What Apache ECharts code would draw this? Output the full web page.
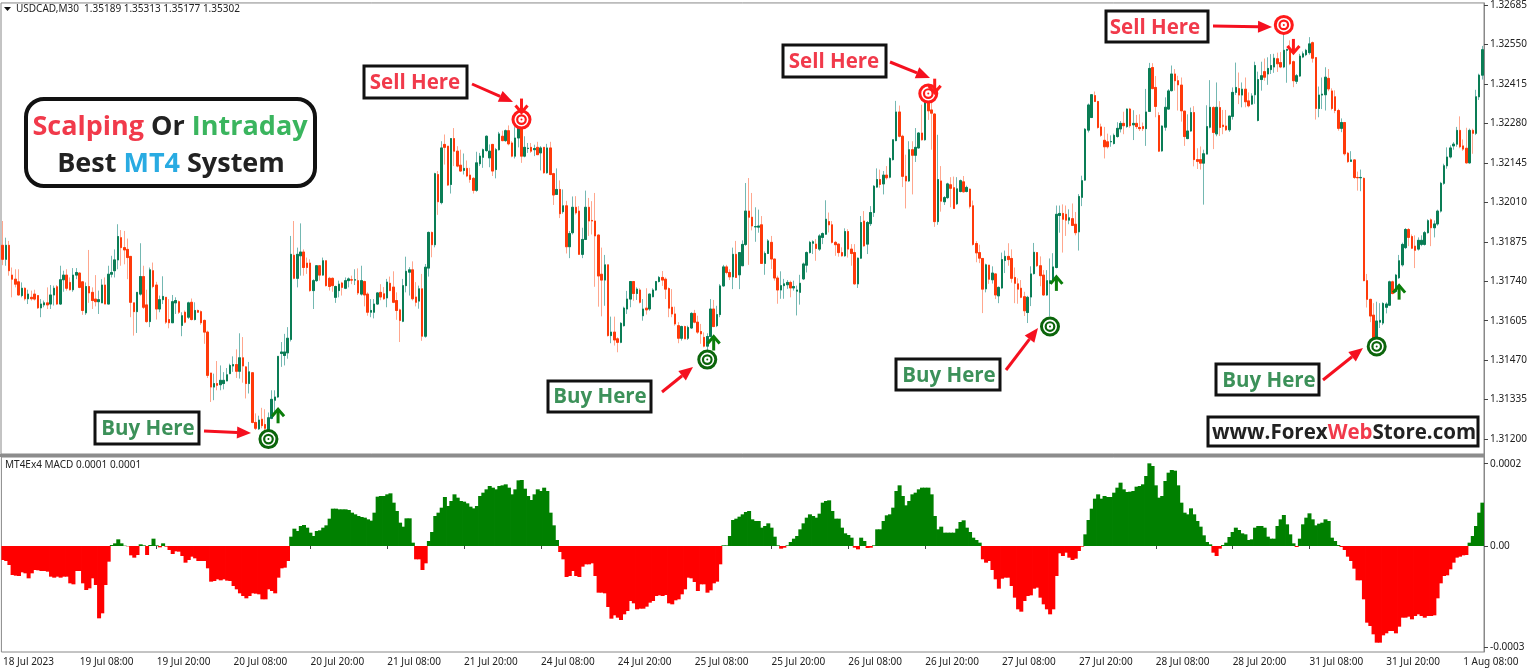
<!DOCTYPE html>
<html>
<head>
<meta charset="utf-8">
<title>USDCAD M30</title>
<script src="https://cdn.jsdelivr.net/npm/echarts@6/dist/echarts.min.js"></script>
<style>
html,body{margin:0;padding:0;background:#fff;}
#container1{width:1536px;height:672px;}
</style>
</head>
<body>
<div id="container1"></div>
<script>
// prices are stored as points above 1.30000 (2550 = 1.32550)
var openPts=[
1863,1815,1863,1761,1747,1738,1691,1716,1680,1685,
1696,1691,1649,1659,1666,1662,1693,1721,1662,1745,
1761,1736,1711,1761,1768,1738,1632,1722,1702,1679,
1670,1666,1727,1662,1764,1776,1813,1889,1855,1849,
1825,1666,1636,1696,1756,1659,1602,1776,1727,1645,
1677,1685,1609,1598,1666,1670,1589,1634,1617,1668,
1609,1640,1636,1606,1566,1426,1378,1390,1386,1390,
1399,1424,1450,1455,1432,1478,1447,1390,1427,1257,
1235,1268,1250,1231,1271,1333,1344,1493,1486,1495,
1541,1829,1750,1827,1840,1802,1802,1708,1742,1793,
1761,1810,1750,1750,1685,1708,1734,1716,1742,1745,
1744,1742,1696,1739,1696,1634,1634,1662,1702,1697,
1683,1733,1720,1674,1642,1603,1725,1771,1779,1686,
1672,1714,1552,1785,1907,1865,2105,2009,2208,2202,
2071,2228,2185,2137,2119,2126,2103,2092,2051,2142,
2164,2187,2162,2208,2122,2190,2236,2221,2255,2213,
2168,2230,2264,2168,2194,2198,2190,2198,2179,2198,
2111,2196,2108,2037,2054,1978,1998,1858,1906,1993,
1980,1832,1883,1993,1948,1946,1898,1764,1744,1796,
1554,1566,1543,1531,1588,1645,1679,1739,1698,1710,
1622,1648,1645,1687,1710,1739,1753,1747,1715,1651,
1628,1588,1545,1585,1545,1580,1630,1600,1568,1548,
1518,1551,1645,1588,1626,1724,1789,1770,1755,1832,
1762,1793,1866,1980,1959,1926,1925,1933,1801,1835,
1873,1816,1751,1710,1725,1728,1736,1717,1706,1702,
1748,1795,1838,1870,1867,1850,1890,1901,1944,1933,
1873,1867,1838,1827,1910,1850,1838,1731,1819,1946,
1867,1937,1975,2062,2088,2073,2103,2096,2156,2221,
2319,2236,2099,2083,2190,2171,2196,2247,2224,2355,
2326,2312,1944,2083,2012,2026,2070,2060,2005,2047,
2080,2047,2055,1998,1869,1838,1818,1714,1795,1745,
1765,1690,1717,1811,1825,1818,1753,1731,1716,1687,
1633,1686,1766,1838,1793,1761,1693,1733,1740,1787,
1965,1972,1969,1949,1954,1935,1909,2027,2086,2257,
2300,2375,2355,2268,2222,2217,2217,2211,2235,2261,
2280,2269,2329,2275,2280,2266,2269,2262,2321,2471,
2403,2307,2186,2267,2329,2392,2449,2426,2411,2322,
2228,2254,2317,2156,2156,2144,2175,2267,2334,2244,
2334,2274,2271,2258,2304,2386,2399,2377,2397,2357,
2346,2378,2290,2430,2457,2449,2464,2473,2501,2488,
2473,2530,2533,2491,2424,2442,2507,2515,2522,2556,
2505,2331,2377,2378,2434,2391,2371,2324,2263,2283,
2178,2150,2155,2095,2094,2092,1742,1678,1624,1537,
1600,1597,1651,1658,1738,1705,1752,1796,1855,1917,
1893,1860,1850,1866,1866,1906,1950,1923,1936,1980,
2075,2135,2165,2203,2209,2256,2203,2195,2145,2256,
2246,2371,2445];
var highPts=[
1946,1889,1878,1787,1781,1781,1736,1719,1711,1708,
1711,1691,1679,1674,1719,1727,1725,1727,1793,1776,
1781,1753,1785,1785,1770,1738,1736,1847,1719,1761,
1708,1747,1753,1793,1827,1849,1935,1915,1912,1886,
1825,1666,1702,1870,1793,1711,1787,1804,1738,1691,
1757,1685,1679,1693,1685,1674,1634,1640,1670,1681,
1668,1643,1640,1609,1571,1426,1424,1467,1452,1429,
1443,1458,1483,1507,1562,1549,1450,1464,1427,1288,
1280,1307,1302,1291,1367,1367,1483,1532,1560,1583,
1895,1946,1855,1938,1849,1821,1815,1747,1795,1795,
1821,1810,1755,1753,1725,1742,1738,1753,1753,1759,
1781,1784,1793,1742,1702,1679,1679,1702,1730,1720,
1748,1756,1774,1702,1646,1748,1824,1788,1808,1737,
1725,1765,1799,1910,1910,2111,2117,2219,2242,2202,
2230,2264,2202,2190,2177,2153,2128,2096,2183,2179,
2194,2239,2208,2210,2196,2251,2255,2259,2273,2219,
2267,2287,2281,2236,2213,2213,2207,2217,2202,2198,
2210,2217,2111,2126,2085,2054,2015,1912,2030,2031,
1997,1923,2050,2025,2014,2042,1900,1855,1830,1796,
1619,1619,1548,1600,1653,1707,1741,1741,1719,1716,
1679,1716,1698,1716,1741,1758,1775,1753,1719,1713,
1653,1600,1588,1588,1588,1634,1642,1622,1594,1565,
1562,1679,1676,1656,1730,1796,1796,1781,1855,1878,
1838,1880,2076,2093,2042,1993,1985,1963,1842,1884,
1895,1816,1759,1774,1748,1744,1742,1742,1725,1762,
1804,1842,1878,1880,1884,1901,1907,2017,1975,1946,
1878,1869,1856,1921,1918,1867,1867,1821,1963,1980,
1946,1997,2069,2126,2122,2117,2134,2164,2224,2357,
2341,2241,2173,2219,2219,2264,2250,2344,2361,2366,
2353,2315,2241,2134,2031,2077,2096,2098,2096,2088,
2100,2067,2057,2016,1877,1865,1818,1800,1795,1791,
1767,1722,1838,1845,1870,1849,1787,1750,1744,1704,
1690,1791,1871,1838,1825,1778,1778,1818,1836,1999,
1999,2003,1999,1986,2006,1977,2038,2101,2264,2348,
2380,2389,2357,2279,2268,2245,2239,2245,2284,2288,
2320,2331,2333,2325,2309,2311,2283,2398,2487,2486,
2442,2318,2273,2369,2397,2478,2466,2443,2437,2322,
2311,2334,2339,2195,2201,2190,2342,2428,2339,2420,
2356,2326,2326,2305,2403,2488,2454,2420,2437,2386,
2383,2491,2457,2491,2502,2506,2517,2518,2522,2524,
2586,2535,2564,2495,2449,2518,2526,2535,2575,2560,
2505,2406,2437,2472,2466,2400,2393,2330,2297,2285,
2182,2185,2158,2115,2122,2095,1765,1680,1665,1670,
1665,1668,1668,1742,1742,1765,1830,1872,1922,1922,
1900,1897,1890,1897,1912,1952,1955,1948,1985,2080,
2142,2198,2205,2216,2268,2304,2225,2265,2262,2262,
2395,2450,2545];
var lowPts=[
1795,1793,1759,1685,1719,1691,1685,1674,1662,1674,
1674,1645,1617,1651,1645,1645,1657,1659,1659,1704,
1708,1708,1704,1747,1716,1625,1625,1666,1645,1654,
1628,1666,1662,1662,1753,1753,1781,1793,1798,1747,
1617,1554,1563,1691,1645,1598,1583,1716,1609,1634,
1662,1594,1579,1598,1628,1628,1552,1596,1611,1606,
1606,1632,1591,1526,1409,1327,1333,1367,1367,1370,
1398,1422,1430,1409,1407,1393,1339,1356,1254,1231,
1231,1237,1225,1225,1268,1293,1341,1447,1452,1475,
1534,1747,1719,1759,1759,1765,1704,1645,1738,1742,
1759,1722,1708,1704,1666,1685,1691,1713,1719,1730,
1727,1693,1691,1654,1622,1617,1613,1659,1675,1676,
1651,1706,1665,1608,1532,1600,1702,1691,1674,1654,
1646,1536,1547,1756,1822,1856,1967,2003,2139,2066,
2040,2134,2130,2114,2105,2096,2077,2040,2046,2134,
2128,2183,2130,2100,2092,2187,2219,2217,2205,2164,
2160,2198,2145,2164,2179,2179,2168,2173,2119,2108,
2108,2103,2001,2035,1956,1971,1835,1819,1900,1968,
1830,1819,1883,1895,1900,1721,1653,1620,1656,1551,
1528,1520,1497,1528,1585,1628,1651,1673,1676,1664,
1605,1626,1639,1685,1707,1736,1724,1679,1617,1617,
1588,1528,1537,1543,1539,1577,1596,1560,1526,1514,
1492,1548,1583,1583,1617,1721,1764,1744,1713,1753,
1713,1793,1861,1796,1914,1875,1906,1926,1762,1833,
1782,1742,1663,1680,1680,1714,1685,1708,1623,1660,
1744,1770,1835,1833,1810,1844,1867,1899,1907,1869,
1827,1824,1824,1824,1821,1793,1728,1717,1816,1858,
1833,1929,1960,2060,2060,2037,2088,2092,2153,2219,
2232,2062,1989,2080,2037,2148,2194,2221,2221,2292,
2190,1926,1933,1978,2001,2022,1993,1987,2001,2044,
2043,2044,1989,1862,1805,1802,1631,1702,1731,1732,
1679,1665,1714,1768,1793,1735,1665,1663,1682,1621,
1597,1655,1763,1789,1723,1690,1690,1620,1734,1784,
1906,1838,1895,1935,1929,1897,1845,1997,2083,2249,
2300,2353,2262,2234,2160,2194,2200,2208,2231,2249,
2243,2265,2265,2223,2261,2254,2254,2203,2319,2397,
2301,2182,2183,2255,2327,2389,2392,2324,2286,2203,
2226,2251,2133,2124,2122,2002,2175,2263,2192,2236,
2237,2243,2254,2251,2293,2377,2346,2335,2335,2335,
2343,2347,2287,2392,2426,2412,2449,2453,2456,2469,
2469,2419,2479,2404,2415,2439,2503,2510,2515,2488,
2293,2301,2329,2324,2390,2325,2315,2255,2250,2170,
2145,2148,2090,2050,2048,1740,1650,1600,1518,1525,
1580,1590,1630,1655,1695,1700,1748,1790,1850,1860,
1850,1785,1845,1860,1862,1903,1860,1890,1930,1975,
2070,2125,2160,2190,2200,2195,2186,2142,2142,2176,
2240,2360,2430];
var closePts=[
1815,1863,1776,1747,1730,1693,1716,1680,1696,1680,
1679,1649,1662,1666,1659,1693,1716,1662,1745,1761,
1716,1711,1761,1770,1719,1640,1722,1700,1674,1670,
1677,1727,1662,1764,1770,1813,1893,1855,1847,1821,
1668,1636,1702,1756,1651,1602,1779,1722,1645,1677,
1688,1600,1598,1670,1674,1634,1622,1600,1666,1609,
1640,1634,1598,1566,1418,1378,1390,1384,1401,1401,
1420,1452,1455,1432,1478,1450,1390,1430,1257,1237,
1265,1246,1237,1273,1336,1344,1483,1498,1498,1545,
1832,1750,1832,1840,1787,1787,1708,1742,1793,1761,
1810,1725,1722,1725,1722,1730,1719,1742,1748,1744,
1745,1700,1742,1693,1634,1640,1662,1700,1686,1680,
1737,1708,1668,1640,1606,1725,1774,1779,1680,1668,
1714,1552,1788,1907,1865,2108,2012,2196,2198,2069,
2228,2185,2134,2117,2126,2100,2088,2051,2145,2168,
2190,2236,2185,2117,2190,2244,2221,2255,2210,2168,
2230,2270,2168,2198,2195,2185,2194,2173,2196,2111,
2196,2105,2035,2054,1971,1998,1858,1903,1993,1974,
1832,1883,1993,1946,1946,1895,1758,1744,1796,1554,
1566,1539,1531,1596,1648,1679,1739,1698,1713,1668,
1645,1642,1696,1710,1739,1753,1744,1713,1648,1628,
1594,1545,1585,1543,1582,1630,1600,1566,1560,1518,
1551,1645,1585,1626,1724,1789,1770,1755,1832,1753,
1838,1866,1980,1959,1929,1927,1929,1801,1835,1878,
1816,1751,1710,1725,1731,1736,1717,1722,1710,1733,
1799,1838,1873,1875,1852,1895,1903,1952,1933,1873,
1865,1838,1827,1910,1850,1835,1731,1819,1941,1861,
1941,1975,2065,2088,2071,2103,2094,2160,2224,2319,
2236,2099,2083,2190,2171,2198,2247,2224,2355,2323,
2315,1944,2088,2014,2026,2073,2058,1989,2056,2084,
2046,2061,1996,1866,1837,1819,1713,1796,1747,1768,
1693,1719,1814,1825,1814,1750,1733,1713,1685,1639,
1685,1765,1839,1793,1759,1693,1742,1742,1789,1969,
1972,1952,1949,1957,1931,1906,2030,2084,2260,2343,
2378,2355,2266,2239,2200,2200,2218,2239,2263,2280,
2272,2329,2272,2280,2269,2262,2262,2319,2468,2399,
2338,2185,2271,2335,2391,2449,2426,2412,2323,2235,
2254,2317,2156,2150,2144,2176,2269,2335,2249,2335,
2266,2269,2258,2305,2386,2403,2377,2397,2354,2340,
2374,2478,2430,2443,2438,2468,2478,2503,2484,2473,
2530,2533,2484,2426,2443,2510,2518,2530,2552,2503,
2331,2377,2380,2438,2398,2331,2324,2263,2283,2176,
2149,2155,2095,2094,2095,1742,1678,1621,1530,1604,
1606,1664,1662,1738,1698,1761,1810,1866,1917,1890,
1853,1846,1880,1880,1906,1947,1923,1936,1980,2075,
2135,2165,2196,2209,2256,2200,2192,2145,2256,2246,
2371,2445,2532];
// histogram in millionths (-218 = -0.000218)
var macdVals=[
-42,-45,-57,-87,-89,-90,-79,-82,-97,-82,
-72,-73,-75,-75,-77,-92,-95,-92,-95,-92,
-92,-112,-115,-75,-75,-112,-132,-127,-97,-117,
-217,-202,-117,-47,3,8,20,8,1,-1,
-28,-35,-27,5,2,-27,3,22,2,-4,
8,-2,-12,-24,-16,-17,-30,-50,-42,-32,
-37,-45,-45,-45,-67,-107,-105,-100,-103,-100,
-104,-105,-120,-130,-142,-150,-157,-150,-142,-143,
-145,-160,-160,-130,-135,-142,-95,-67,-65,-45,
28,52,45,60,63,55,40,30,45,47,
55,62,82,112,112,110,110,110,108,100,
95,90,87,85,80,76,100,148,150,150,
155,158,130,105,70,58,83,83,10,-40,
-40,-72,-52,15,42,90,100,115,147,120,
135,155,145,135,133,128,118,113,120,150,
160,170,180,175,170,180,182,185,175,155,
170,197,198,172,150,138,155,170,165,175,
165,100,62,18,-18,-40,-93,-90,-75,-90,
-93,-62,-55,-55,-52,-90,-140,-140,-142,-183,
-218,-208,-215,-222,-205,-195,-165,-172,-190,-188,
-188,-182,-170,-165,-150,-148,-150,-147,-172,-175,
-163,-160,-145,-130,-95,-97,-108,-135,-115,-115,
-140,-133,-112,-107,-55,2,2,30,78,82,
88,95,102,105,80,75,75,55,60,68,
55,28,2,-8,-5,2,12,22,30,50,
68,85,95,90,85,97,130,135,137,105,
82,82,55,38,33,25,-5,-10,25,15,
-6,-5,2,50,50,75,92,95,115,165,
182,150,122,135,155,160,170,175,175,175,
155,90,50,58,40,40,40,40,52,72,
77,55,42,25,18,10,-40,-50,-45,-72,
-100,-128,-98,-95,-95,-120,-155,-190,-197,-165,
-150,-148,-128,-125,-155,-175,-190,-205,-190,-90,
-22,-30,-20,-35,-42,-38,-15,-2,35,78,
112,142,155,142,150,147,147,160,175,190,
170,162,163,165,178,180,185,210,248,240,
182,145,150,195,220,228,226,182,130,100,
95,113,95,75,58,32,12,5,-20,-30,
-8,3,10,27,42,55,48,38,35,18,
20,55,60,60,55,28,22,22,60,80,
93,65,35,8,-3,22,65,85,98,80,
62,67,70,80,75,25,15,3,-3,-12,
-32,-45,-68,-103,-103,-160,-230,-240,-265,-290,
-290,-268,-262,-255,-255,-262,-242,-215,-215,-212,
-220,-210,-205,-210,-215,-210,-210,-208,-157,-112,
-90,-88,-70,-50,-35,-32,-28,-27,10,30,
60,100,130];
var timeLabels=['18 Jul 2023','19 Jul 08:00','19 Jul 20:00','20 Jul 08:00','20 Jul 20:00','21 Jul 08:00','21 Jul 20:00','24 Jul 08:00','24 Jul 20:00','25 Jul 08:00','25 Jul 20:00','26 Jul 08:00','26 Jul 20:00','27 Jul 08:00','27 Jul 20:00','28 Jul 08:00','28 Jul 20:00','31 Jul 08:00','31 Jul 20:00','1 Aug 08:00'];
var priceTicks=[1.32685,1.3255,1.32415,1.3228,1.32145,1.3201,1.31875,1.3174,1.31605,1.3147,1.31335,1.312];
var macdTicks=[247,0,-303];
// signals: bar index and price in points
var buyTargetIdx=[83,220,327,429],buyTargetPts=[1200,1472,1585,1517];
var sellTargetIdx=[162,289,400],sellTargetPts=[2293,2382,2617];
var buyArrowIdx=[86,222,329,436],buyArrowPts=[1278,1527,1731,1701];
var sellArrowIdx=[162,291,403],sellArrowPts=[2341,2409,2545];

var BASE=1.3;
function toPrice(p){return BASE+p/100000;}
var FONT='"Noto Sans",sans-serif';
var UP='#0a7d55',DOWN='#ff3a0a',UP_WICK='#74b8b2',DOWN_WICK='#ffa78e';
var RED='#f13a4b',DARK='#222222',GREEN='#3c9159',ARROW='#f5101f';

var categories=[],wickData=[],bodyData=[];
for(var i=0;i<openPts.length;i++){
    categories.push(i%24===0?timeLabels[i/24]:'');
    var o=toPrice(openPts[i]),c=toPrice(closePts[i]);
    wickData.push([o,c,toPrice(lowPts[i]),toPrice(highPts[i])]);
    bodyData.push([o,c,Math.min(o,c),Math.max(o,c)]);
}
function signalData(idx,pts){
    return idx.map(function(v,k){return [v,toPrice(pts[k])];});
}
// target rings, drawn at the bar and price of the signal
function targetItem(col){
    return function(params,api){
        var p=api.coord([api.value(0),api.value(1)]);
        var ring=function(r,lw,fill){
            return {type:'circle',shape:{cx:p[0],cy:p[1],r:r},style:{fill:fill,stroke:col,lineWidth:lw}};
        };
        return {type:'group',children:[ring(8.5,3,'#fff'),ring(4.3,2.2,'#fff'),{type:'circle',shape:{cx:p[0],cy:p[1],r:1},style:{fill:col}}]};
    };
}
function arrowItem(col,dir){
    return function(params,api){
        var p=api.coord([api.value(0),api.value(1)]);
        var x=p[0],y=p[1];
        return {type:'group',children:[
            {type:'line',shape:{x1:x,y1:y-7*dir,x2:x,y2:y+7*dir},style:{stroke:col,lineWidth:3}},
            {type:'polyline',shape:{points:[[x-6,y],[x,y-7*dir],[x+6,y]]},style:{stroke:col,lineWidth:3,fill:null}}
        ]};
    };
}
// boxes and arrows that were drawn over the screenshot
function box(x,y,w,h,lw,r){
    return {type:'rect',z:20,shape:{x:x,y:y,width:w,height:h,r:r||0},style:{fill:'#fff',stroke:'#111',lineWidth:lw}};
}
function label(x,y,txt,col,size){
    return {type:'text',z:21,style:{x:x,y:y,text:txt,fill:col,font:'bold '+size+'px "Open Sans",sans-serif',align:'center',verticalAlign:'middle'}};
}
function arrow(x1,y1,x2,y2){
    var a=Math.atan2(y2-y1,x2-x1),len=14,w=6;
    var bx=x2-len*Math.cos(a),by=y2-len*Math.sin(a);
    var nx=-Math.sin(a)*w,ny=Math.cos(a)*w;
    return [
        {type:'line',z:22,shape:{x1:x1,y1:y1,x2:bx,y2:by},style:{stroke:ARROW,lineWidth:3}},
        {type:'polygon',z:22,shape:{points:[[x2,y2],[bx+nx,by+ny],[bx-nx,by-ny]]},style:{fill:ARROW}}
    ];
}
var headerFont='10px '+FONT;
var bigFont='bold 27px "Open Sans",sans-serif';
var siteFont='bold 20.5px "Open Sans",sans-serif';
var graphics=[
    {type:'rect',z:19,shape:{x:0,y:454,width:1485,height:3},style:{fill:'#8c8c8c'}},
    {type:'polygon',z:21,shape:{points:[[4,7],[11,7],[7.5,11]]},style:{fill:'#111'}},
    {type:'text',z:21,style:{x:16,y:9,text:'USDCAD,M30  1.35189 1.35313 1.35177 1.35302',fill:'#222',font:headerFont,verticalAlign:'middle'}},
    {type:'text',z:21,style:{x:5,y:465,text:'MT4Ex4 MACD 0.0001 0.0001',fill:'#222',font:headerFont,verticalAlign:'middle'}},
    box(26,99,289,87,4,18),
    {type:'text',z:21,style:{x:170,y:127,align:'center',verticalAlign:'middle',text:'{r|Scalping }{k|Or }{g|Intraday}',
        rich:{r:{fill:RED,font:bigFont},k:{fill:DARK,font:bigFont},g:{fill:'#3ab55e',font:bigFont}}}},
    {type:'text',z:21,style:{x:171,y:164,align:'center',verticalAlign:'middle',text:'{k|Best }{b|MT4 }{k|System}',
        rich:{k:{fill:DARK,font:bigFont},b:{fill:'#29abe2',font:bigFont}}}},
    box(364,66,103,32,3), label(415,83,'Sell Here',RED,20.5),
    box(783,45,103,32,3), label(834,62,'Sell Here',RED,20.5),
    box(1106,11,102,31,3), label(1155,28,'Sell Here',RED,20.5),
    box(95,412,104,32,3), label(148,429,'Buy Here',GREEN,20.5),
    box(548,381,103,31,3), label(600,397,'Buy Here',GREEN,20.5),
    box(896,359,104,31,3), label(949,376,'Buy Here',GREEN,20.5),
    box(1216,364,103,31,3), label(1269,381,'Buy Here',GREEN,20.5),
    box(1208,417,270,29,3),
    {type:'text',z:21,style:{x:1344,y:433,align:'center',verticalAlign:'middle',text:'{k|www.Forex}{r|Web}{k|Store.com}',
        rich:{k:{fill:DARK,font:siteFont},r:{fill:RED,font:siteFont}}}}
].concat(arrow(472,84,513,102),arrow(890,62,930,78),arrow(1213,26,1272,27),arrow(204,431,251,433),arrow(662,392,693,367),arrow(1006,370,1038,328),arrow(1323,380,1363,348));

var axisText={color:'#222',fontSize:10,fontFamily:FONT};
var option1={
    animation:false,
    backgroundColor:'#fff',
    grid:[
        {left:1,top:1,width:1483,height:453,show:true,borderColor:'#888',borderWidth:1,backgroundColor:'#fff'},
        {left:1,top:457,width:1483,height:195,show:true,borderColor:'#888',borderWidth:1,backgroundColor:'#fff'}
    ],
    xAxis:[
        {type:'category',gridIndex:0,data:categories,show:false},
        {type:'category',gridIndex:1,data:categories,
            axisLine:{show:false},
            axisTick:{show:true,alignWithLabel:true,interval:23,length:3,lineStyle:{color:'#444'}},
            axisLabel:Object.assign({interval:23,align:'left',margin:5},axisText),
            splitLine:{show:false}}
    ],
    yAxis:[
        {type:'value',gridIndex:0,position:'right',scale:true,min:toPrice(1149),max:toPrice(2692),
            axisLine:{show:true,onZero:false,lineStyle:{color:'#888'}},
            axisTick:{show:true,length:4,lineStyle:{color:'#444'},customValues:priceTicks},
            axisLabel:Object.assign({margin:6,customValues:priceTicks,formatter:function(v){return v.toFixed(5);}},axisText),
            splitLine:{show:false}},
        {type:'value',gridIndex:1,position:'right',min:-318,max:267,
            axisLine:{show:true,onZero:false,lineStyle:{color:'#888'}},
            axisTick:{show:true,length:4,lineStyle:{color:'#444'},customValues:macdTicks},
            axisLabel:Object.assign({margin:6,customValues:macdTicks,formatter:function(v){return v===0?'0.00':(v/1000000).toFixed(4);}},axisText),
            splitLine:{show:false}}
    ],
    series:[
        {type:'candlestick',name:'wicks',xAxisIndex:0,yAxisIndex:0,data:wickData,barWidth:2,
            itemStyle:{color:UP_WICK,color0:DOWN_WICK,borderColor:UP_WICK,borderColor0:DOWN_WICK,borderWidth:1}},
        {type:'candlestick',name:'USDCAD',xAxisIndex:0,yAxisIndex:0,data:bodyData,barWidth:2,z:3,
            itemStyle:{color:UP,color0:DOWN,borderColor:UP,borderColor0:DOWN,borderWidth:1}},
        {type:'bar',name:'MACD',xAxisIndex:1,yAxisIndex:1,data:macdVals,barWidth:4,
            itemStyle:{color:function(p){return p.value>=0?'#008000':'#ff0000';}}},
        {type:'custom',xAxisIndex:0,yAxisIndex:0,z:5,clip:false,data:signalData(buyTargetIdx,buyTargetPts),renderItem:targetItem('#0b650b')},
        {type:'custom',xAxisIndex:0,yAxisIndex:0,z:5,clip:false,data:signalData(sellTargetIdx,sellTargetPts),renderItem:targetItem('#ff1a1a')},
        {type:'custom',xAxisIndex:0,yAxisIndex:0,z:5,clip:false,data:signalData(buyArrowIdx,buyArrowPts),renderItem:arrowItem('#0a7d0a',1)},
        {type:'custom',xAxisIndex:0,yAxisIndex:0,z:5,clip:false,data:signalData(sellArrowIdx,sellArrowPts),renderItem:arrowItem('#ff1a1a',-1)}
    ],
    graphic:{elements:graphics}
};
var myChart1=echarts.init(document.getElementById('container1'),null,{renderer:'canvas',width:1536,height:672});
myChart1.setOption(option1);
</script>
</body>
</html>
